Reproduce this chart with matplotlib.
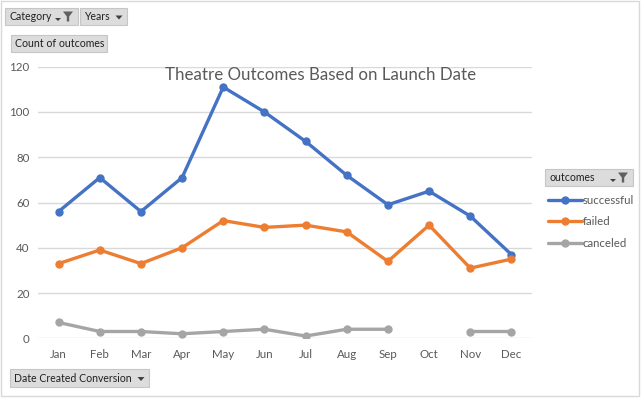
import numpy as np
import matplotlib
matplotlib.use("Agg")
import matplotlib.pyplot as plt
from matplotlib.patches import Rectangle, Polygon

months = ["Jan", "Feb", "Mar", "Apr", "May", "Jun", "Jul", "Aug", "Sep", "Oct", "Nov", "Dec"]
successful = [56, 71, 56, 71, 111, 100, 87, 72, 59, 65, 54, 37]
failed = [33, 39, 33, 40, 52, 49, 50, 47, 34, 50, 31, 35]
canceled = [7, 3, 3, 2, 3, 4, 1, 4, 4, None, 3, 3]
series_names = ["successful", "failed", "canceled"]
yticks = [0, 20, 40, 60, 80, 100, 120]
title = "Theatre Outcomes Based on Launch Date"

W, H = 641, 399
plt.rcParams['font.family'] = ['Lato', 'DejaVu Sans']
fig = plt.figure(figsize=(W / 100, H / 100), dpi=100)
fig.patch.set_facecolor("white")

def fx(px):
    return px / W

def fy(py):
    return 1 - py / H

TXT = "#595959"
ax = fig.add_axes([fx(38), fy(338.3), fx(532) - fx(38), fy(66.7) - fy(338.3)])
x = np.arange(len(months))
colors = ["#4472C4", "#ED7D31", "#A5A5A5"]
data = [successful, failed, canceled]
handles = []
for vals, c, name in zip(data, colors, series_names):
    v = np.array([np.nan if a is None else a for a in vals], dtype=float)
    h, = ax.plot(x, v, color=c, lw=2.4, marker="o", ms=5, label=name, solid_capstyle="round")
    handles.append(h)

ax.set_xlim(-0.5, len(months) - 0.5)
ax.set_ylim(0, 120)
ax.set_yticks(yticks)
ax.set_xticks(x)
ax.set_xticklabels(months)
ax.yaxis.grid(True, color="#D9D9D9", lw=1)
ax.set_axisbelow(True)
for s in ax.spines.values():
    s.set_visible(False)
ax.tick_params(length=0, colors=TXT, labelsize=8.3)
ax.tick_params(axis="y", pad=6)
ax.tick_params(axis="x", pad=8)
ax.set_facecolor("none")

fig.text(fx(321), fy(75), title, ha="center", va="center", fontsize=12.2, color=TXT)

# outer border
fig.add_artist(Rectangle((fx(1), fy(396)), fx(638), fy(1) - fy(396), transform=fig.transFigure,
                         fill=False, ec="#D9D9D9", lw=1))

def button(x0, y0, x1, y1, label, arrow=False, funnel=False, fs=7.6):
    fig.add_artist(Rectangle((fx(x0), fy(y1)), fx(x1) - fx(x0), fy(y0) - fy(y1),
                             transform=fig.transFigure, fc="#DCDCDC", ec="#C6C6C6", lw=0.8))
    fig.text(fx(x0 + 4), fy((y0 + y1) / 2), label, ha="left", va="center", fontsize=fs, color="#202020")
    if arrow:
        ax_ = x1 - 8
        cy = (y0 + y1) / 2 + 1
        fig.add_artist(Polygon([(fx(ax_ - 3.5), fy(cy - 2)), (fx(ax_ + 3.5), fy(cy - 2)), (fx(ax_), fy(cy + 2))],
                               closed=True, transform=fig.transFigure, fc="#404040", ec="none"))
    if funnel:
        fx0 = x1 - 10
        cy = (y0 + y1) / 2
        fig.add_artist(Polygon([(fx(fx0 - 5), fy(cy - 5)), (fx(fx0 + 5), fy(cy - 5)), (fx(fx0 + 1.2), fy(cy)),
                                (fx(fx0 + 1.2), fy(cy + 5)), (fx(fx0 - 1.2), fy(cy + 5)), (fx(fx0 - 1.2), fy(cy))],
                               closed=True, transform=fig.transFigure, fc="#606060", ec="none"))
        ax_ = x1 - 20
        cy2 = cy + 3
        fig.add_artist(Polygon([(fx(ax_ - 3), fy(cy2 - 1.5)), (fx(ax_ + 3), fy(cy2 - 1.5)), (fx(ax_), fy(cy2 + 1.5))],
                               closed=True, transform=fig.transFigure, fc="#404040", ec="none"))

button(5, 8, 78, 25, "Category", funnel=True)
button(80, 8, 127, 25, "Years", arrow=True)
button(11, 35, 107, 52, "Count of outcomes")
button(10, 369, 149, 387, "Date Created Conversion", arrow=True)
button(545, 169, 633, 186, "outcomes", funnel=True)

leg = fig.legend(handles=handles, labels=series_names, loc="upper left",
                 bbox_to_anchor=(fx(543), fy(190)), frameon=False, fontsize=8.2,
                 handlelength=3.0, handletextpad=0.1, labelspacing=0.95, borderaxespad=0)
for t in leg.get_texts():
    t.set_color(TXT)

fig.savefig("out.png", dpi=100, facecolor="white")
